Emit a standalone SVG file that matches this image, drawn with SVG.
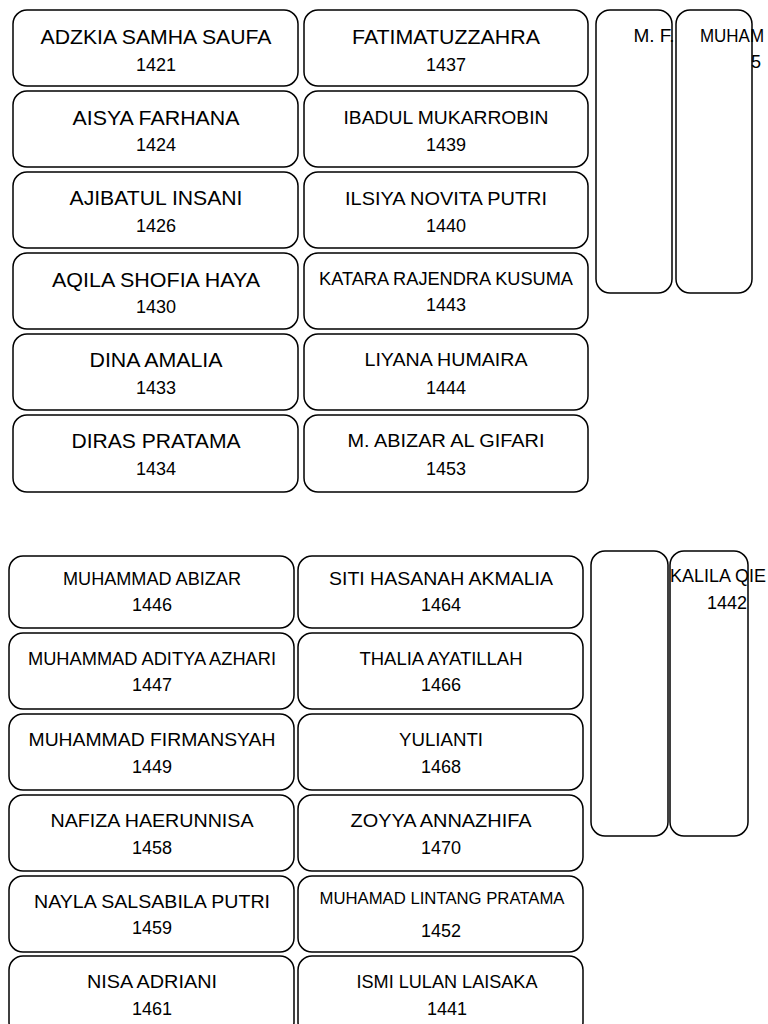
<svg xmlns="http://www.w3.org/2000/svg" width="768" height="1024" viewBox="0 0 768 1024">
<style>
rect{fill:#fff;stroke:#000;stroke-width:1.5}
text{font-family:"Liberation Sans",Arial,sans-serif;fill:#000;text-anchor:middle}
.n{font-size:21px}
.s{font-size:18px}
</style>
<rect x="0" y="0" width="768" height="1024" style="stroke:none"/>
<g id="connectors"/>
<g id="top">
<g id="t1"><rect x="13" y="10" width="285" height="76" rx="14"/><text class="n" x="156" y="44" textLength="231" lengthAdjust="spacingAndGlyphs">ADZKIA SAMHA SAUFA</text><text class="s" x="156" y="71">1421</text></g>
<g id="t2"><rect x="13" y="91" width="285" height="76" rx="14"/><text class="n" x="156" y="125" textLength="167" lengthAdjust="spacingAndGlyphs">AISYA FARHANA</text><text class="s" x="156" y="151">1424</text></g>
<g id="t3"><rect x="13" y="172" width="285" height="76" rx="14"/><text class="n" x="156" y="205" textLength="173" lengthAdjust="spacingAndGlyphs">AJIBATUL INSANI</text><text class="s" x="156" y="232">1426</text></g>
<g id="t4"><rect x="13" y="253" width="285" height="76" rx="14"/><text class="n" x="156" y="287" textLength="208" lengthAdjust="spacingAndGlyphs">AQILA SHOFIA HAYA</text><text class="s" x="156" y="313">1430</text></g>
<g id="t5"><rect x="13" y="334" width="285" height="76" rx="14"/><text class="n" x="156" y="367" textLength="133" lengthAdjust="spacingAndGlyphs">DINA AMALIA</text><text class="s" x="156" y="394">1433</text></g>
<g id="t6"><rect x="13" y="415" width="285" height="77" rx="14"/><text class="n" x="156" y="448" textLength="169" lengthAdjust="spacingAndGlyphs">DIRAS PRATAMA</text><text class="s" x="156" y="475">1434</text></g>
<g id="t7"><rect x="304" y="10" width="284" height="76" rx="14"/><text class="n" x="446" y="44" textLength="188" lengthAdjust="spacingAndGlyphs">FATIMATUZZAHRA</text><text class="s" x="446" y="71">1437</text></g>
<g id="t8"><rect x="304" y="91" width="284" height="76" rx="14"/><text class="n" x="446" y="124" style="font-size:19px" textLength="205" lengthAdjust="spacingAndGlyphs">IBADUL MUKARROBIN</text><text class="s" x="446" y="151">1439</text></g>
<g id="t9"><rect x="304" y="172" width="284" height="76" rx="14"/><text class="n" x="446" y="205" style="font-size:19px" textLength="202" lengthAdjust="spacingAndGlyphs">ILSIYA NOVITA PUTRI</text><text class="s" x="446" y="232">1440</text></g>
<g id="t10"><rect x="304" y="253" width="284" height="76" rx="14"/><text class="n" x="446" y="285" style="font-size:18px" textLength="254" lengthAdjust="spacingAndGlyphs">KATARA RAJENDRA KUSUMA</text><text class="s" x="446" y="311">1443</text></g>
<g id="t11"><rect x="304" y="334" width="284" height="76" rx="14"/><text class="n" x="446" y="366" style="font-size:19px" textLength="163" lengthAdjust="spacingAndGlyphs">LIYANA HUMAIRA</text><text class="s" x="446" y="394">1444</text></g>
<g id="t12"><rect x="304" y="415" width="284" height="77" rx="14"/><text class="n" x="446" y="447" style="font-size:19px" textLength="197" lengthAdjust="spacingAndGlyphs">M. ABIZAR AL GIFARI</text><text class="s" x="446" y="475">1453</text></g>
<g id="t13"><rect x="596" y="10" width="76" height="283" rx="14"/><text class="n" x="654" y="42" style="font-size:19px">M. F.</text></g>
<g id="t14"><rect x="676" y="10" width="76" height="283" rx="14"/><text class="n" x="700" y="42" style="font-size:19px;text-anchor:start" textLength="64" lengthAdjust="spacingAndGlyphs">MUHAM</text><text class="s" x="756" y="68">5</text></g>
</g>
<g id="bottom">
<g id="b1"><rect x="9" y="556" width="285" height="72" rx="14"/><text class="n" x="152" y="585" style="font-size:19px" textLength="178" lengthAdjust="spacingAndGlyphs">MUHAMMAD ABIZAR</text><text class="s" x="152" y="611">1446</text></g>
<g id="b2"><rect x="9" y="633" width="285" height="76" rx="14"/><text class="n" x="152" y="665" style="font-size:19px" textLength="248" lengthAdjust="spacingAndGlyphs">MUHAMMAD ADITYA AZHARI</text><text class="s" x="152" y="691">1447</text></g>
<g id="b3"><rect x="9" y="714" width="285" height="76" rx="14"/><text class="n" x="152" y="746" style="font-size:19px" textLength="247" lengthAdjust="spacingAndGlyphs">MUHAMMAD FIRMANSYAH</text><text class="s" x="152" y="773">1449</text></g>
<g id="b4"><rect x="9" y="795" width="285" height="76" rx="14"/><text class="n" x="152" y="827" style="font-size:19px" textLength="203" lengthAdjust="spacingAndGlyphs">NAFIZA HAERUNNISA</text><text class="s" x="152" y="854">1458</text></g>
<g id="b5"><rect x="9" y="876" width="285" height="76" rx="14"/><text class="n" x="152" y="908" style="font-size:19px" textLength="236" lengthAdjust="spacingAndGlyphs">NAYLA SALSABILA PUTRI</text><text class="s" x="152" y="934">1459</text></g>
<g id="b6"><rect x="9" y="956" width="285" height="80" rx="14"/><text class="n" x="152" y="988" style="font-size:19px" textLength="130" lengthAdjust="spacingAndGlyphs">NISA ADRIANI</text><text class="s" x="152" y="1015">1461</text></g>
<g id="b7"><rect x="298" y="556" width="285" height="72" rx="14"/><text class="n" x="441" y="585" style="font-size:19px" textLength="224" lengthAdjust="spacingAndGlyphs">SITI HASANAH AKMALIA</text><text class="s" x="441" y="611">1464</text></g>
<g id="b8"><rect x="298" y="633" width="285" height="76" rx="14"/><text class="n" x="441" y="665" style="font-size:19px" textLength="163" lengthAdjust="spacingAndGlyphs">THALIA AYATILLAH</text><text class="s" x="441" y="691">1466</text></g>
<g id="b9"><rect x="298" y="714" width="285" height="76" rx="14"/><text class="n" x="441" y="746" style="font-size:19px" textLength="84" lengthAdjust="spacingAndGlyphs">YULIANTI</text><text class="s" x="441" y="773">1468</text></g>
<g id="b10"><rect x="298" y="795" width="285" height="76" rx="14"/><text class="n" x="441" y="827" style="font-size:19px" textLength="181" lengthAdjust="spacingAndGlyphs">ZOYYA ANNAZHIFA</text><text class="s" x="441" y="854">1470</text></g>
<g id="b11"><rect x="298" y="876" width="285" height="76" rx="14"/><text class="n" x="442" y="904" style="font-size:16px" textLength="245" lengthAdjust="spacingAndGlyphs">MUHAMAD LINTANG PRATAMA</text><text class="s" x="441" y="937">1452</text></g>
<g id="b12"><rect x="298" y="956" width="285" height="80" rx="14"/><text class="n" x="447" y="988" style="font-size:19px" textLength="181" lengthAdjust="spacingAndGlyphs">ISMI LULAN LAISAKA</text><text class="s" x="447" y="1015">1441</text></g>
<g id="b13"><rect x="591" y="551" width="77" height="285" rx="14"/></g>
<g id="b14"><rect x="670" y="551" width="78" height="285" rx="14"/><text class="n" x="670" y="582" style="font-size:19px;text-anchor:start" textLength="96" lengthAdjust="spacingAndGlyphs">KALILA QIE</text><text class="s" x="727" y="609">1442</text></g>
</g>
</svg>
